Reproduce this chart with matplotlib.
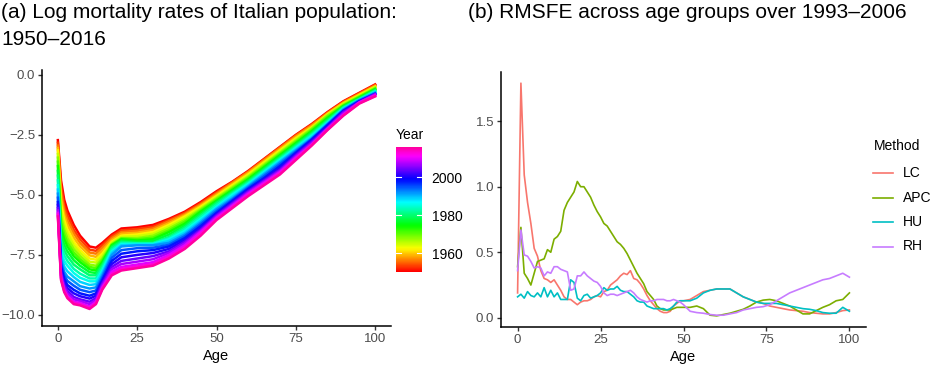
import numpy as np
import matplotlib.pyplot as plt
from matplotlib.colors import ListedColormap, Normalize
from matplotlib.lines import Line2D

plt.rcParams['font.family'] = ['Liberation Sans', 'DejaVu Sans']

# ---- panel (a): log mortality rates, one row per year ----
ages_a = [0, 1, 2, 3, 5, 7, 10, 12, 14, 17, 20, 25, 30, 35, 40, 45, 50,
          55, 60, 65, 70, 75, 80, 85, 90, 95, 100]
years_a = [1950, 1953, 1956, 1959, 1962, 1965, 1968, 1971, 1974, 1977, 1980, 1983,
           1986, 1989, 1992, 1995, 1998, 2001, 2004, 2007, 2010, 2013, 2016]

rate_1950 = [-2.72, -4.40, -5.20, -5.65, -6.25, -6.70, -7.15, -7.20, -7.00, -6.65, -6.40, -6.35, -6.25, -6.00,
             -5.70, -5.30, -4.85, -4.45, -4.00, -3.50, -3.00, -2.50, -2.05, -1.55, -1.10, -0.75, -0.40]
rate_1953 = [-2.83, -4.65, -5.45, -5.85, -6.45, -6.85, -7.28, -7.33, -7.10, -6.72, -6.48, -6.42, -6.33, -6.05,
             -5.75, -5.35, -4.90, -4.47, -4.03, -3.52, -3.02, -2.52, -2.08, -1.57, -1.12, -0.77, -0.42]
rate_1956 = [-2.95, -4.90, -5.65, -6.05, -6.60, -7.00, -7.40, -7.45, -7.20, -6.80, -6.55, -6.50, -6.40, -6.10,
             -5.80, -5.40, -4.95, -4.50, -4.05, -3.55, -3.05, -2.55, -2.10, -1.60, -1.15, -0.80, -0.45]
rate_1959 = [-3.05, -5.15, -5.85, -6.25, -6.78, -7.15, -7.52, -7.58, -7.33, -6.88, -6.62, -6.58, -6.47, -6.18,
             -5.85, -5.45, -5.00, -4.55, -4.10, -3.60, -3.10, -2.60, -2.15, -1.62, -1.17, -0.82, -0.48]
rate_1962 = [-3.15, -5.40, -6.05, -6.45, -6.95, -7.30, -7.65, -7.70, -7.45, -6.95, -6.70, -6.65, -6.55, -6.25,
             -5.90, -5.50, -5.05, -4.60, -4.15, -3.65, -3.15, -2.65, -2.20, -1.65, -1.20, -0.85, -0.50]
rate_1965 = [-3.30, -5.65, -6.25, -6.62, -7.10, -7.42, -7.78, -7.82, -7.55, -7.00, -6.75, -6.72, -6.62, -6.32,
             -5.98, -5.55, -5.10, -4.65, -4.20, -3.70, -3.20, -2.70, -2.22, -1.68, -1.22, -0.88, -0.52]
rate_1968 = [-3.45, -5.90, -6.45, -6.80, -7.25, -7.55, -7.90, -7.95, -7.65, -7.05, -6.80, -6.80, -6.70, -6.40,
             -6.05, -5.60, -5.15, -4.70, -4.25, -3.75, -3.25, -2.75, -2.25, -1.70, -1.25, -0.90, -0.55]
rate_1971 = [-3.62, -6.15, -6.65, -6.98, -7.40, -7.68, -8.00, -8.05, -7.72, -7.08, -6.82, -6.85, -6.78, -6.48,
             -6.12, -5.65, -5.20, -4.75, -4.30, -3.80, -3.30, -2.80, -2.30, -1.75, -1.28, -0.92, -0.58]
rate_1974 = [-3.80, -6.40, -6.85, -7.15, -7.55, -7.80, -8.10, -8.15, -7.80, -7.10, -6.85, -6.90, -6.85, -6.55,
             -6.20, -5.70, -5.25, -4.80, -4.35, -3.85, -3.35, -2.85, -2.35, -1.80, -1.30, -0.95, -0.60]
rate_1977 = [-4.00, -6.65, -7.08, -7.35, -7.72, -7.95, -8.22, -8.25, -7.88, -7.15, -6.90, -6.95, -6.92, -6.65,
             -6.28, -5.78, -5.30, -4.85, -4.40, -3.90, -3.40, -2.90, -2.40, -1.85, -1.32, -0.98, -0.62]
rate_1980 = [-4.20, -6.90, -7.30, -7.55, -7.90, -8.10, -8.35, -8.35, -7.95, -7.20, -6.95, -7.00, -7.00, -6.75,
             -6.35, -5.85, -5.35, -4.90, -4.45, -3.95, -3.45, -2.95, -2.45, -1.90, -1.35, -1.00, -0.65]
rate_1983 = [-4.40, -7.10, -7.52, -7.75, -8.08, -8.28, -8.48, -8.48, -8.05, -7.28, -7.00, -7.02, -7.02, -6.80,
             -6.42, -5.92, -5.42, -4.95, -4.50, -4.00, -3.50, -3.00, -2.50, -1.95, -1.38, -1.02, -0.68]
rate_1986 = [-4.60, -7.30, -7.75, -7.95, -8.25, -8.45, -8.60, -8.60, -8.15, -7.35, -7.05, -7.05, -7.05, -6.85,
             -6.50, -6.00, -5.50, -5.00, -4.55, -4.05, -3.55, -3.05, -2.55, -2.00, -1.40, -1.05, -0.70]
rate_1989 = [-4.78, -7.50, -7.98, -8.18, -8.42, -8.62, -8.75, -8.72, -8.25, -7.42, -7.10, -7.08, -7.08, -6.92,
             -6.58, -6.08, -5.55, -5.08, -4.60, -4.10, -3.60, -3.10, -2.60, -2.02, -1.42, -1.05, -0.72]
rate_1992 = [-4.95, -7.70, -8.20, -8.40, -8.60, -8.80, -8.90, -8.85, -8.35, -7.50, -7.15, -7.10, -7.10, -7.00,
             -6.65, -6.15, -5.60, -5.15, -4.65, -4.15, -3.65, -3.15, -2.65, -2.05, -1.45, -1.05, -0.75]
rate_1995 = [-5.12, -7.85, -8.35, -8.58, -8.78, -8.95, -9.05, -8.98, -8.45, -7.62, -7.30, -7.22, -7.20, -7.08,
             -6.72, -6.22, -5.68, -5.20, -4.70, -4.22, -3.72, -3.20, -2.68, -2.08, -1.48, -1.08, -0.78]
rate_1998 = [-5.30, -8.00, -8.50, -8.75, -8.95, -9.10, -9.20, -9.10, -8.55, -7.75, -7.45, -7.35, -7.30, -7.15,
             -6.80, -6.30, -5.75, -5.25, -4.75, -4.30, -3.80, -3.25, -2.70, -2.10, -1.50, -1.10, -0.80]
rate_2001 = [-5.42, -8.12, -8.62, -8.88, -9.10, -9.22, -9.32, -9.20, -8.62, -7.88, -7.60, -7.50, -7.42, -7.25,
             -6.88, -6.38, -5.80, -5.30, -4.80, -4.35, -3.88, -3.30, -2.75, -2.15, -1.52, -1.12, -0.80]
rate_2004 = [-5.55, -8.25, -8.75, -9.00, -9.25, -9.35, -9.45, -9.30, -8.70, -8.00, -7.75, -7.65, -7.55, -7.35,
             -6.95, -6.45, -5.85, -5.35, -4.85, -4.40, -3.95, -3.35, -2.80, -2.20, -1.55, -1.15, -0.80]
rate_2007 = [-5.65, -8.35, -8.85, -9.10, -9.35, -9.42, -9.55, -9.38, -8.78, -8.10, -7.88, -7.78, -7.68, -7.42,
             -7.02, -6.50, -5.90, -5.40, -4.90, -4.45, -4.00, -3.40, -2.85, -2.22, -1.60, -1.15, -0.82]
rate_2010 = [-5.75, -8.45, -8.95, -9.20, -9.45, -9.50, -9.65, -9.45, -8.85, -8.20, -8.00, -7.90, -7.80, -7.50,
             -7.10, -6.55, -5.95, -5.45, -4.95, -4.50, -4.05, -3.45, -2.90, -2.25, -1.65, -1.15, -0.85]
rate_2013 = [-5.82, -8.50, -9.00, -9.25, -9.50, -9.55, -9.70, -9.50, -8.90, -8.28, -8.08, -7.98, -7.88, -7.58,
             -7.18, -6.62, -6.00, -5.50, -5.00, -4.55, -4.10, -3.50, -2.92, -2.28, -1.68, -1.18, -0.88]
rate_2016 = [-5.90, -8.55, -9.05, -9.30, -9.55, -9.60, -9.75, -9.55, -8.95, -8.35, -8.15, -8.05, -7.95, -7.65,
             -7.25, -6.70, -6.05, -5.55, -5.05, -4.60, -4.15, -3.55, -2.95, -2.30, -1.70, -1.20, -0.90]
rates = [rate_1950, rate_1953, rate_1956, rate_1959, rate_1962, rate_1965, rate_1968, rate_1971,
         rate_1974, rate_1977, rate_1980, rate_1983, rate_1986, rate_1989, rate_1992, rate_1995,
         rate_1998, rate_2001, rate_2004, rate_2007, rate_2010, rate_2013, rate_2016]

# ---- panel (b): RMSFE by age ----
ages_b = list(range(0, 51)) + list(range(52, 101, 2))
rmsfe_lc = [0.19, 1.79, 1.09, 0.88, 0.72, 0.53, 0.47, 0.36, 0.30, 0.29, 0.27, 0.29, 0.25, 0.21, 0.16, 0.14,
            0.14, 0.12, 0.10, 0.12, 0.13, 0.13, 0.14, 0.16, 0.17, 0.16, 0.20, 0.21, 0.25, 0.27, 0.29, 0.32,
            0.34, 0.33, 0.36, 0.30, 0.29, 0.26, 0.22, 0.17, 0.13, 0.10, 0.07, 0.05, 0.04, 0.04, 0.05, 0.09,
            0.11, 0.13, 0.13,
            0.14, 0.17, 0.20, 0.21, 0.22, 0.22, 0.22, 0.19, 0.16, 0.14, 0.12, 0.11, 0.09, 0.08, 0.07, 0.06,
            0.055, 0.05, 0.04, 0.035, 0.03, 0.03, 0.04, 0.055, 0.06]
rmsfe_apc = [0.39, 0.69, 0.34, 0.30, 0.25, 0.34, 0.43, 0.44, 0.45, 0.52, 0.50, 0.60, 0.62, 0.66, 0.82, 0.88,
             0.92, 0.96, 1.04, 1.00, 1.00, 0.96, 0.92, 0.86, 0.81, 0.77, 0.72, 0.70, 0.66, 0.62, 0.58, 0.56,
             0.53, 0.49, 0.44, 0.39, 0.34, 0.30, 0.26, 0.20, 0.17, 0.14, 0.09, 0.07, 0.06, 0.06, 0.06, 0.07,
             0.08, 0.08, 0.08,
             0.08, 0.09, 0.07, 0.02, 0.015, 0.025, 0.035, 0.05, 0.065, 0.09, 0.12, 0.135, 0.14, 0.13, 0.11,
             0.09, 0.06, 0.03, 0.03, 0.055, 0.08, 0.10, 0.13, 0.14, 0.19]
rmsfe_hu = [0.16, 0.18, 0.15, 0.20, 0.17, 0.16, 0.19, 0.16, 0.23, 0.16, 0.21, 0.16, 0.19, 0.14, 0.14, 0.14,
            0.29, 0.27, 0.15, 0.13, 0.17, 0.18, 0.15, 0.16, 0.17, 0.19, 0.23, 0.21, 0.22, 0.22, 0.24, 0.21,
            0.20, 0.20, 0.18, 0.16, 0.13, 0.12, 0.12, 0.09, 0.08, 0.07, 0.07, 0.07, 0.07, 0.06, 0.07, 0.09,
            0.12, 0.13, 0.13,
            0.13, 0.15, 0.19, 0.21, 0.22, 0.22, 0.22, 0.19, 0.16, 0.14, 0.12, 0.11, 0.11, 0.11, 0.10, 0.09,
            0.08, 0.07, 0.065, 0.055, 0.04, 0.035, 0.035, 0.08, 0.05]
rmsfe_rh = [0.36, 0.67, 0.48, 0.47, 0.43, 0.38, 0.39, 0.38, 0.32, 0.35, 0.34, 0.39, 0.39, 0.37, 0.36, 0.35,
            0.21, 0.22, 0.32, 0.32, 0.35, 0.32, 0.30, 0.28, 0.27, 0.24, 0.19, 0.17, 0.18, 0.18, 0.17, 0.18,
            0.19, 0.20, 0.21, 0.19, 0.16, 0.14, 0.13, 0.12, 0.13, 0.13, 0.14, 0.14, 0.14, 0.13, 0.13, 0.14,
            0.13, 0.12, 0.10,
            0.05, 0.04, 0.035, 0.025, 0.02, 0.02, 0.03, 0.04, 0.06, 0.07, 0.08, 0.085, 0.10, 0.13, 0.16, 0.19,
            0.21, 0.23, 0.25, 0.27, 0.29, 0.30, 0.32, 0.34, 0.31]
methods = ['LC', 'APC', 'HU', 'RH']
method_colors = ['#F8766D', '#7CAE00', '#00BFC4', '#C77CFF']

W, H = 932, 366
fig = plt.figure(figsize=(W / 100, H / 100), dpi=100)


def style_axes(ax):
    for s in ['top', 'right']:
        ax.spines[s].set_visible(False)
    for s in ['left', 'bottom']:
        ax.spines[s].set_linewidth(1.1)
        ax.spines[s].set_color('black')
    ax.tick_params(length=3, width=1.0, color='#333333', labelcolor='#4D4D4D', labelsize=9.5, pad=2)
    ax.set_xticks([0, 25, 50, 75, 100])
    ax.set_xlim(-5, 105)
    ax.set_xlabel('Age', fontsize=10.5, labelpad=3)


# panel (a)
ax1 = fig.add_axes([42 / W, 40 / H, 349 / W, 256 / H])
cmap = ListedColormap(plt.cm.hsv(np.linspace(0, 0.91, 256)))
norm = Normalize(1950, 2016)
for yr, r in zip(years_a, rates):
    ax1.plot(ages_a, r, color=cmap(norm(yr)), lw=1.8, solid_joinstyle='round')
style_axes(ax1)
ax1.set_ylim(-10.46, 0.2)
ax1.set_yticks([-10, -7.5, -5, -2.5, 0])
ax1.set_yticklabels(['\u221210.0', '\u22127.5', '\u22125.0', '\u22122.5', '0.0'])

# colour bar
cax = fig.add_axes([396 / W, (H - 272) / H, 26 / W, 125 / H])
cax.imshow(np.linspace(1950, 2016, 256)[:, None], aspect='auto', cmap=cmap,
           origin='lower', extent=[0, 1, 1950, 2016])
for s in cax.spines.values():
    s.set_visible(False)
for y in [1960, 1980, 2000]:
    cax.plot([0, 0.2], [y, y], color='white', lw=0.8)
    cax.plot([0.8, 1], [y, y], color='white', lw=0.8)
cax.set_xlim(0, 1)
cax.set_ylim(1950, 2016)
cax.set_xticks([])
cax.yaxis.tick_right()
cax.set_yticks([1960, 1980, 2000])
cax.tick_params(length=0, labelsize=10, pad=7)
cax.set_title('Year', fontsize=10, loc='left', pad=6)

# panel (b)
ax2 = fig.add_axes([501 / W, 39 / H, 365 / W, 255 / H])
for m, c, v in zip(methods, method_colors, [rmsfe_lc, rmsfe_apc, rmsfe_hu, rmsfe_rh]):
    ax2.plot(ages_b, v, color=c, lw=1.2)
style_axes(ax2)
ax2.set_ylim(-0.07, 1.875)
ax2.set_yticks([0, 0.5, 1.0, 1.5])
ax2.set_yticklabels(['0.0', '0.5', '1.0', '1.5'])

# legend
fig.text(874 / W, (H - 146) / H, 'Method', fontsize=10, va='center')
for i, (m, c) in enumerate(zip(methods, method_colors)):
    y = (H - (173 + 24.5 * i)) / H
    fig.add_artist(Line2D([873 / W, 893 / W], [y, y], color=c, lw=1.2))
    fig.text(903 / W, y, m, fontsize=10, va='center')

fig.text(1 / W, 1 - 18 / H, '(a) Log mortality rates of Italian population:',
         fontsize=15, va='baseline', ha='left')
fig.text(1 / W, 1 - 45 / H, '1950\u20132016', fontsize=15, va='baseline', ha='left')
fig.text(468 / W, 1 - 18 / H, '(b) RMSFE across age groups over 1993\u20132006',
         fontsize=15, va='baseline', ha='left')

fig.savefig('out.png', dpi=100)
